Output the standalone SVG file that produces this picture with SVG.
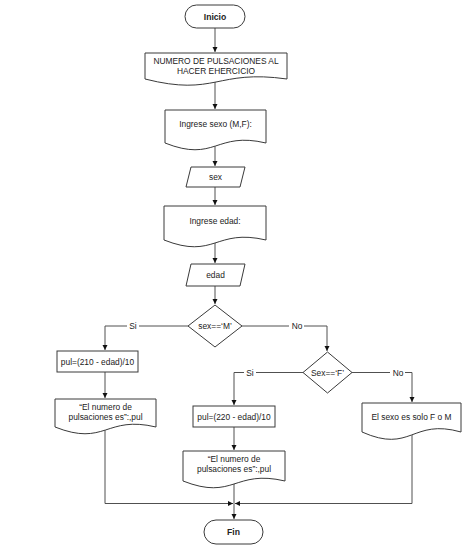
<svg xmlns="http://www.w3.org/2000/svg" width="474" height="548" viewBox="0 0 474 548">
<style>
.s{fill:#fff;stroke:#3a3a3a;stroke-width:1}
.c{fill:none;stroke:#505050;stroke-width:1}
.t{font-family:"Liberation Sans",Arial,sans-serif;font-size:8.4px;fill:#222;text-anchor:middle}
.b{font-weight:bold;font-size:8.6px}
.lb{fill:#fff;stroke:none}
</style>
<defs>
<marker id="a" markerWidth="6" markerHeight="6" refX="5" refY="3" orient="auto" markerUnits="userSpaceOnUse">
<path d="M0,0.5 L5,3 L0,5.5 Z" fill="#111"/>
</marker>
</defs>
<rect width="474" height="548" fill="#fff"/>
<g id="connectors">
<path class="c" d="M215,28 V52" marker-end="url(#a)"/>
<path class="c" d="M215,80 V109" marker-end="url(#a)"/>
<path class="c" d="M215,144 V166" marker-end="url(#a)"/>
<path class="c" d="M215,187 V205" marker-end="url(#a)"/>
<path class="c" d="M215,241 V263" marker-end="url(#a)"/>
<path class="c" d="M215,286 V304" marker-end="url(#a)"/>
<path class="c" d="M188,326 H105 V350" marker-end="url(#a)"/>
<path class="c" d="M242,326 H327 V351" marker-end="url(#a)"/>
<path class="c" d="M303,372.5 H234 V405" marker-end="url(#a)"/>
<path class="c" d="M352,372.5 H412 V402" marker-end="url(#a)"/>
<path class="c" d="M105,372 V398" marker-end="url(#a)"/>
<path class="c" d="M234,427 V450" marker-end="url(#a)"/>
<path class="c" d="M105,428 V503.5 H233" marker-end="url(#a)"/>
<path class="c" d="M412,433 V503.5 H235" marker-end="url(#a)"/>
<path class="c" d="M234,482 V519" marker-end="url(#a)"/>
<rect class="lb" x="127" y="320" width="12" height="10"/>
<text class="t" x="133" y="328.5">Si</text>
<rect class="lb" x="289" y="320" width="15" height="10"/>
<text class="t" x="297" y="328.5">No</text>
<rect class="lb" x="244" y="367" width="12" height="10"/>
<text class="t" x="250" y="375.5">Si</text>
<rect class="lb" x="390" y="367" width="15" height="10"/>
<text class="t" x="398" y="375.5">No</text>
</g>
<g id="inicio">
<rect class="s" x="185" y="5" width="60" height="23" rx="11.5"/>
<text class="t b" x="215" y="19.5">Inicio</text>
</g>
<g id="titulo">
<path class="s" d="M145,53 H287 V79 C216,69 216,97 145,79 Z"/>
<text class="t" x="216" y="63.5">NUMERO DE PULSACIONES AL</text>
<text class="t" x="216" y="73.5">HACER EHERCICIO</text>
</g>
<g id="msg-sexo">
<path class="s" d="M165,110 H266 V143 C215.5,131 215.5,163 165,143 Z"/>
<text class="t" x="215.5" y="127">Ingrese sexo (M,F):</text>
</g>
<g id="in-sex">
<path class="s" d="M191,167 H245 L240,187 H186 Z"/>
<text class="t" x="215.5" y="180">sex</text>
</g>
<g id="msg-edad">
<path class="s" d="M164,206 H266 V240 C215,228 215,260 164,240 Z"/>
<text class="t" x="215" y="224">Ingrese edad:</text>
</g>
<g id="in-edad">
<path class="s" d="M191,264 H245 L240,286 H186 Z"/>
<text class="t" x="215.5" y="278">edad</text>
</g>
<g id="dec-m">
<path class="s" d="M215,305 L242,326 L215,347 L188,326 Z"/>
<text class="t" x="215" y="329">sex==‘M’</text>
</g>
<g id="dec-f">
<path class="s" d="M327.5,352 L352,372.5 L327.5,393 L303,372.5 Z"/>
<text class="t" x="327.5" y="375.5">Sex==‘F’</text>
</g>
<g id="pul-m">
<rect class="s" x="57" y="351" width="81" height="21"/>
<text class="t" x="97.5" y="365">pul=(210 - edad)/10</text>
</g>
<g id="out-m">
<path class="s" d="M55,399 H156 V427 C105.5,415 105.5,447 55,427 Z"/>
<text class="t" x="105.5" y="410">“El numero de</text>
<text class="t" x="105.5" y="420">pulsaciones es”:,pul</text>
</g>
<g id="pul-f">
<rect class="s" x="193" y="406" width="82" height="21"/>
<text class="t" x="234" y="420">pul=(220 - edad)/10</text>
</g>
<g id="out-f">
<path class="s" d="M183,451 H285 V481 C234,469 234,501 183,481 Z"/>
<text class="t" x="234" y="462">“El numero de</text>
<text class="t" x="234" y="472">pulsaciones es”:,pul</text>
</g>
<g id="error">
<path class="s" d="M362,403 H461 V432 C411.5,418 411.5,454 362,432 Z"/>
<text class="t" x="411.5" y="420">El sexo es solo F o M</text>
</g>
<g id="fin">
<rect class="s" x="204" y="520" width="59" height="24" rx="12"/>
<text class="t b" x="233.5" y="535">Fin</text>
</g>
</svg>
